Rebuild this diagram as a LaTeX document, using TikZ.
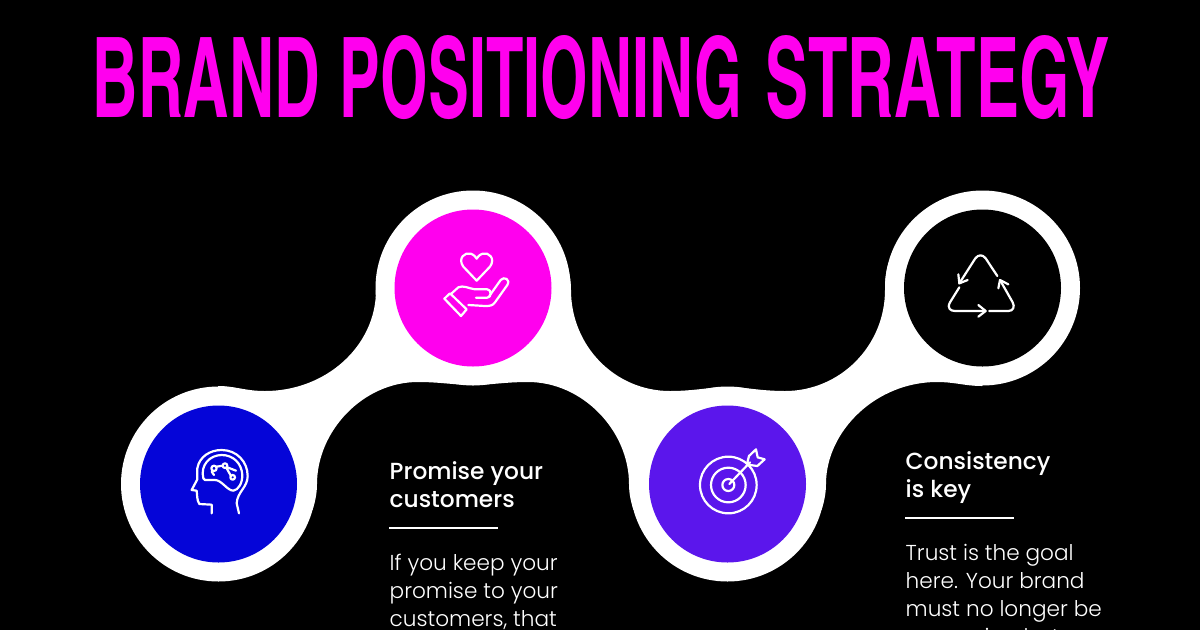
\documentclass[tikz,border=0pt]{standalone}
\usepackage{fontspec}
\setmainfont{Poppins}
\newfontfamily\titlefont{TeX Gyre Heros Cn Bold}
\newfontfamily\bodyfont{Poppins Light}
\newfontfamily\headfont{Poppins Medium}
\definecolor{mag}{HTML}{FF00EE}
\definecolor{blu}{HTML}{0505D8}
\definecolor{pur}{HTML}{5B16EC}
\newcommand{\titleword}[2]{\resizebox{#1pt}{82pt}{\titlefont\vphantom{BOS}#2}}
\tikzset{
 halo/.style={circle,fill=white,minimum size=195pt,inner sep=0pt,draw=none},
 disc/.style={circle,minimum size=157pt,inner sep=0pt,draw=none},
 ico/.style={draw=white,line width=2.2pt,line cap=round,line join=round},
 headtxt/.style={anchor=north west,align=left,text=white,inner sep=0pt,font=\headfont\fontsize{23.3}{28}\selectfont},
 bodytxt/.style={anchor=north west,align=left,text=white,inner sep=0pt,font=\bodyfont\fontsize{21.6}{27.9}\selectfont},
 rulel/.style={draw=white,line width=2pt},
 zoomed/.style={x=0.33333pt,y=-0.33333pt}
}
\begin{document}
\begin{tikzpicture}[x=1pt,y=-1pt]
\useasboundingbox[fill=black] (0,0) rectangle (1200,630);
\node[anchor=center,inner sep=0pt,text=mag] (title) at (601.5,78) {\titleword{227}{BRAND}\hspace{20pt}\titleword{402}{POSITIONING}\hspace{23pt}\titleword{345}{STRATEGY}};
% white ribbon
\fill[white] (218,386) .. controls (235,386) and (245,391) .. (265,391)
  .. controls (326,391) and (376,346) .. (376,290)
  .. controls (376,280) and (377,270) .. (380,262) -- (473,288) -- (566,262)
  .. controls (569,270) and (571,280) .. (571,290)
  .. controls (571,346) and (615,391) .. (670,391)
  .. controls (695,391) and (710,387) .. (727,387)
  .. controls (745,387) and (760,391) .. (785,391)
  .. controls (840,391) and (885,346) .. (885,290)
  .. controls (885,280) and (886,270) .. (889,262) -- (982,288) -- (982,386)
  .. controls (965,386) and (955,382) .. (937,382)
  .. controls (876,382) and (826,431) .. (826,484)
  .. controls (826,494) and (824,502) .. (821.5,510) -- (727,484) -- (633.5,510)
  .. controls (631,502) and (629,494) .. (629,484)
  .. controls (629,431) and (583,382) .. (528,382)
  .. controls (505,382) and (490,385) .. (473,385)
  .. controls (455,385) and (440,382) .. (418,382)
  .. controls (363,382) and (317,431) .. (317,484)
  .. controls (317,494) and (315,502) .. (312.5,510) -- (218,484) -- cycle;
\node[halo] (h1) at (218.5,484) {};
\node[halo] (h2) at (473,288) {};
\node[halo] (h3) at (727.5,484) {};
\node[halo] (h4) at (982.5,288) {};
\node[disc,fill=blu] (c1) at (218.5,484) {};
\node[disc,fill=mag] (c2) at (473,288) {};
\node[disc,fill=pur] (c3) at (727.5,484) {};
\node[disc,fill=black] (c4) at (982.5,288) {};
% head icon
\begin{scope}[shift={(140,400)},zoomed]
\draw[ico] (215,340) -- (215,314) -- (178,312) .. controls (170,300) and (172,285) .. (170,272) -- (155,270) -- (172,238) -- (172,205)
  .. controls (178,170) and (210,150) .. (245,150) .. controls (290,150) and (323,185) .. (323,228)
  .. controls (323,262) and (292,275) .. (290,310) -- (297,340);
\draw[ico] (190,235) .. controls (180,195) and (210,165) .. (245,165) .. controls (280,165) and (305,190) .. (307,225)
  .. controls (307,250) and (295,270) .. (280,272) .. controls (262,272) and (245,240) .. (225,240) -- (195,240) -- cycle;
\draw[ico] (222,205) circle (8) (255,197) circle (7) (278,232) circle (7);
\draw[ico] (230,200) -- (248,197) (262,202) -- (288,212) (215,215) -- (222,225) (260,205) -- (272,226);
\end{scope}
% hand icon
\begin{scope}[shift={(400,210)},zoomed]
\draw[ico] (230,212) -- (190,170) .. controls (172,145) and (195,125) .. (212,131) .. controls (222,134) and (228,142) .. (230,146)
  .. controls (232,142) and (238,134) .. (248,131) .. controls (265,125) and (288,145) .. (270,170) -- cycle;
\draw[ico] (133,266) -- (150,250) -- (200,298) -- (183,318) -- cycle;
\draw[ico] (155,250) -- (175,232) .. controls (190,225) and (205,235) .. (225,238) -- (262,238)
  .. controls (275,238) and (275,263) .. (262,263) -- (228,263);
\draw[ico] (268,258) -- (302,210) .. controls (312,198) and (332,208) .. (322,225) -- (285,277)
  .. controls (278,287) and (270,288) .. (255,288) -- (205,285);
\end{scope}
% target icon
\begin{scope}[shift={(670,420)},zoomed]
\draw[ico] (175,195) circle (85) (175,195) circle (52) (175,195) circle (18);
\draw[ico] (178,192) -- (240,127);
\draw[ico] (232,128) -- (237,108) -- (258,88) -- (263,112) -- (284,118) -- (262,138) -- (240,135) -- cycle;
\end{scope}
% recycle icon
\begin{scope}[shift={(920,225)},zoomed]
\draw[ico] (232,153) -- (197,100) .. controls (188,88) and (175,88) .. (166,100) -- (118,175);
\draw[ico] (115,148) -- (118,175) -- (143,165);
\draw[ico] (118,187) -- (90,232) .. controls (80,250) and (92,258) .. (105,258) -- (195,258);
\draw[ico] (175,240) -- (197,258) -- (175,275);
\draw[ico] (208,258) -- (265,258) .. controls (280,258) and (285,245) .. (278,232) -- (240,165);
\draw[ico] (235,190) -- (240,165) -- (265,178);
\end{scope}
% left text
\node[headtxt] (t1) at (389.5,461) {Promise your\\customers};
\coordinate (r1a) at (389,528); \coordinate (r1b) at (498,528);
\draw[rulel] (r1a) -- (r1b);
\node[bodytxt] (b1) at (389.5,554) {If you keep your\\promise to your\\customers, that};
% right text
\node[headtxt] (t2) at (905.5,451) {Consistency\\is key};
\coordinate (r2a) at (905,518); \coordinate (r2b) at (1014,518);
\draw[rulel] (r2a) -- (r2b);
\node[bodytxt] (b2) at (905.5,544) {Trust is the goal\\here. Your brand\\must no longer be\\a promise, but};
\end{tikzpicture}
\end{document}
